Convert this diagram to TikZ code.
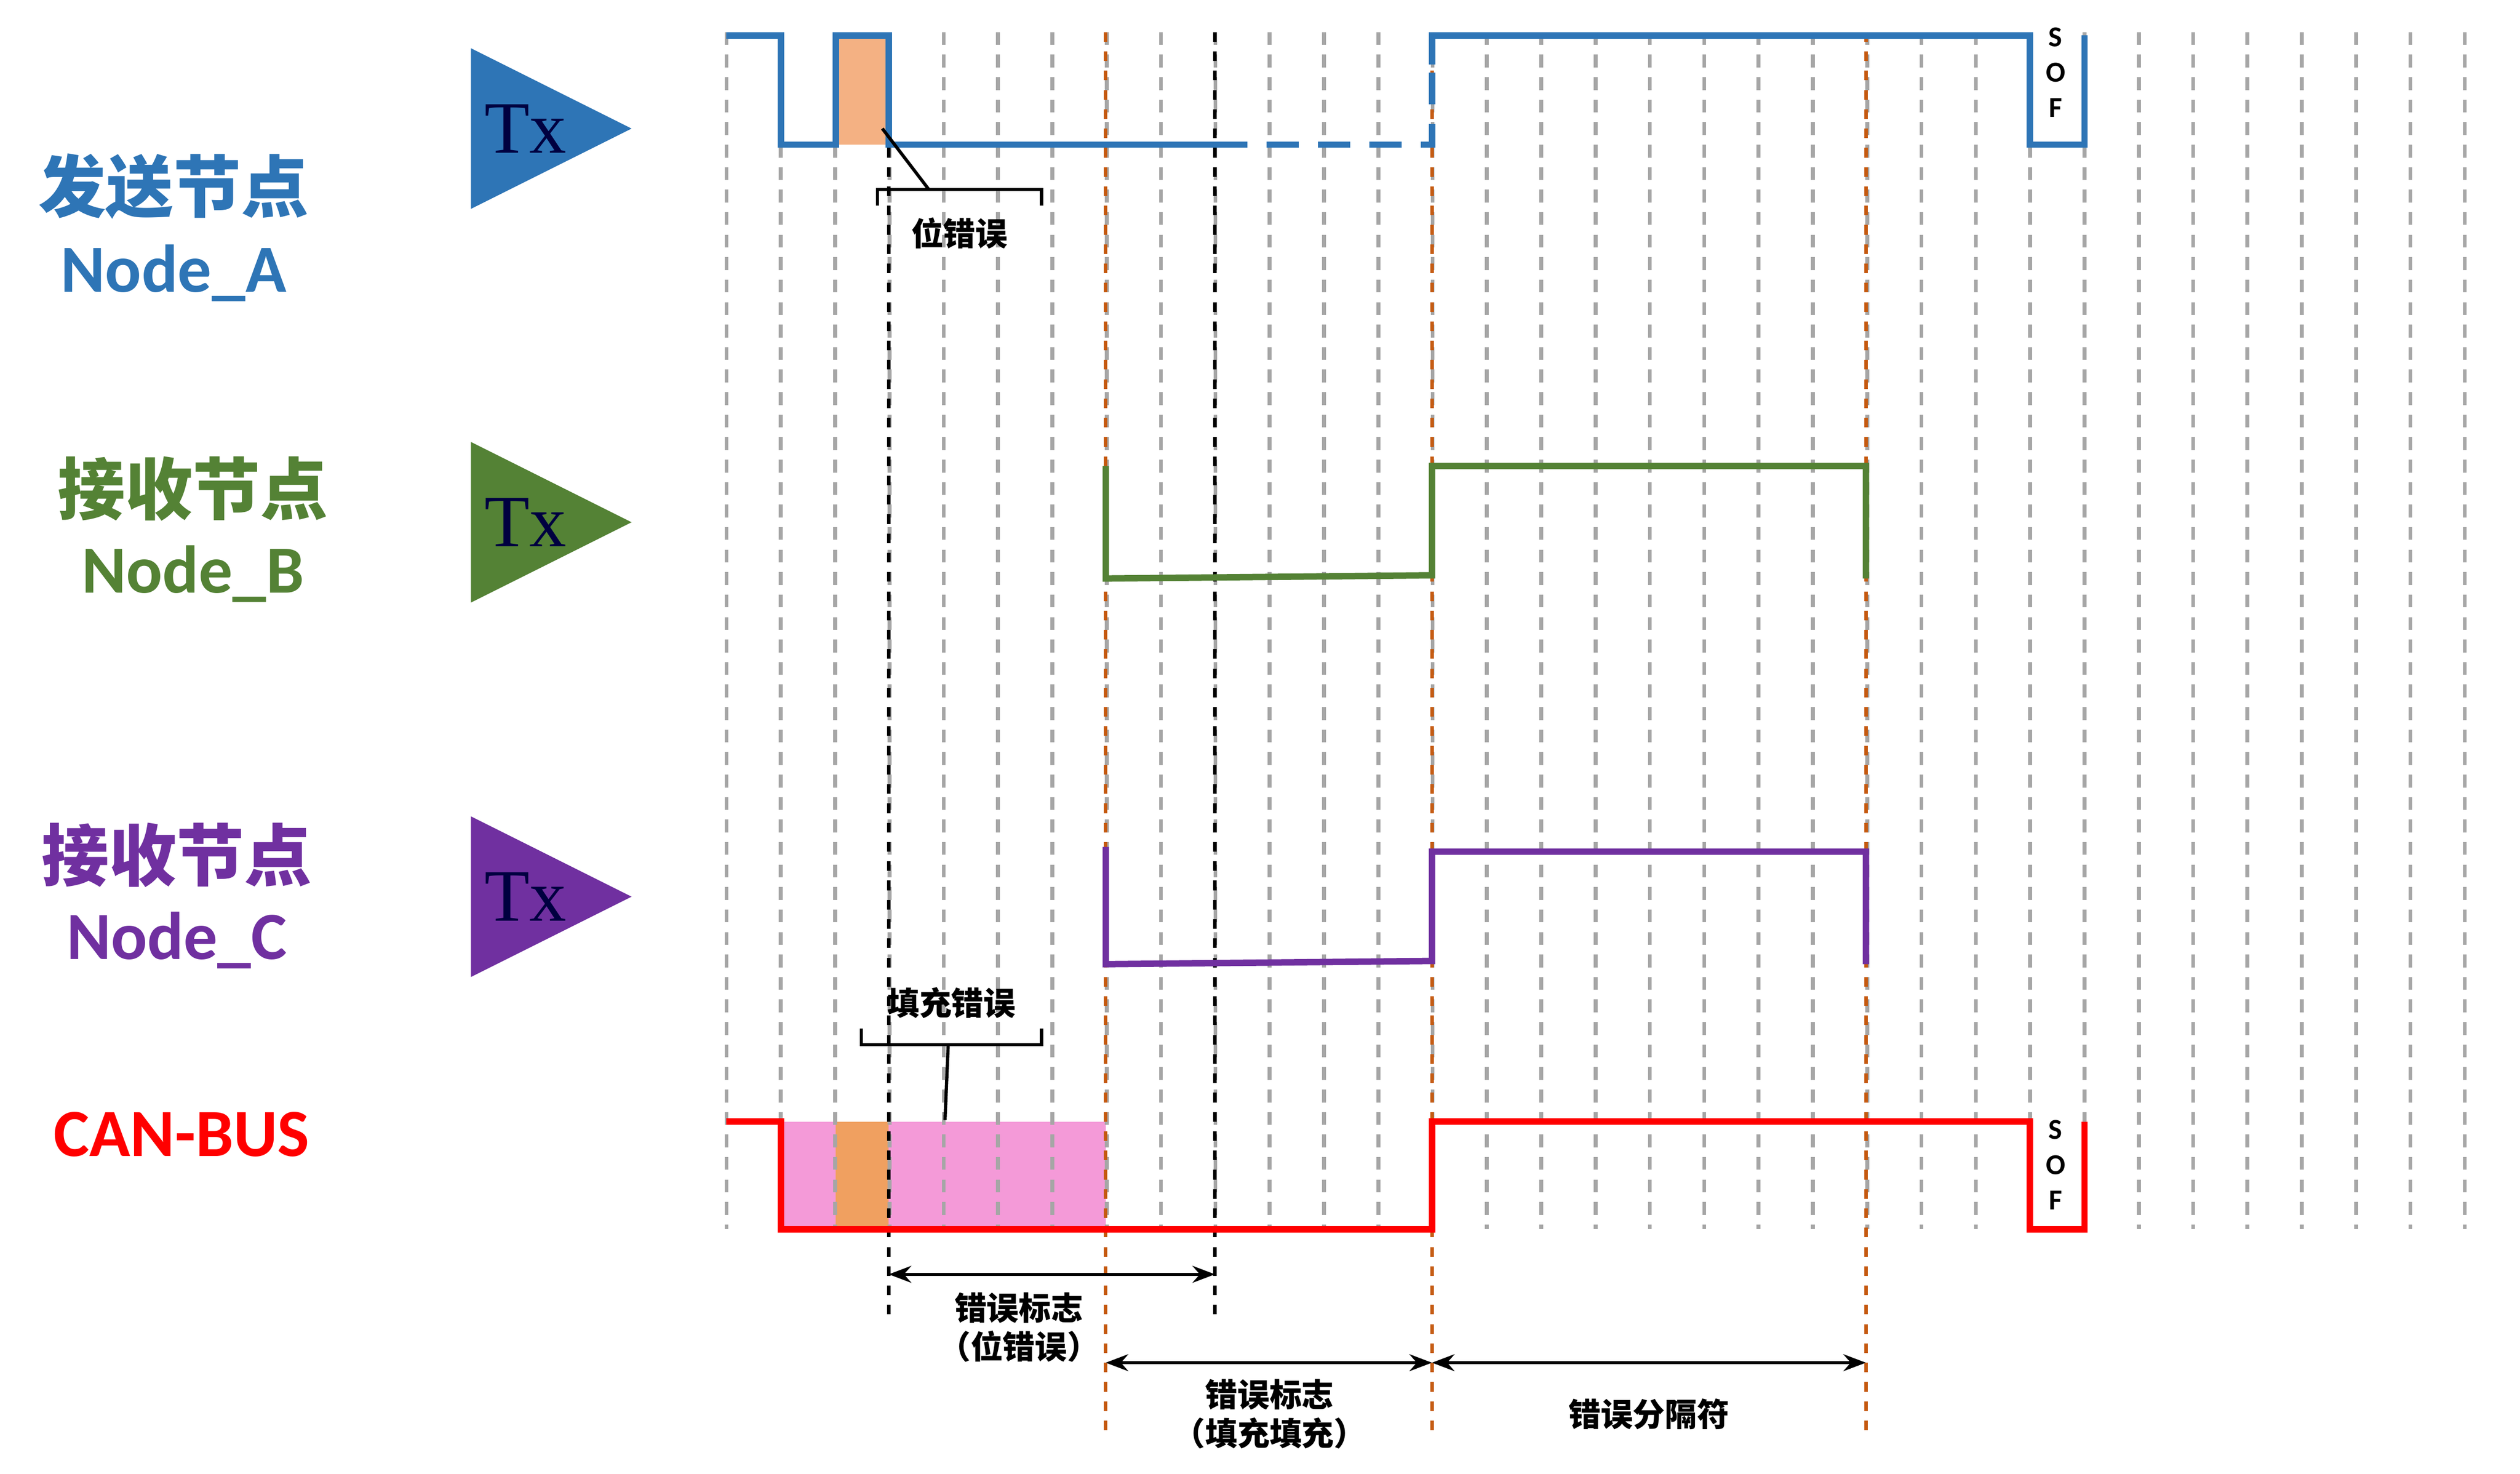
\documentclass[tikz,border=0pt]{standalone}
\usepackage{fontspec}
\setmainfont{Carlito}
\newfontfamily\cjk{Noto Sans CJK SC}
\newfontfamily\serif{Liberation Serif}
\usetikzlibrary{arrows.meta}
\definecolor{cblue}{HTML}{2E75B6}
\definecolor{cgreen}{HTML}{548235}
\definecolor{cpurple}{HTML}{7030A0}
\definecolor{corange}{HTML}{F4B183}
\definecolor{corange2}{HTML}{F0A060}
\definecolor{cpink}{HTML}{F49AD8}
\definecolor{cdorange}{HTML}{C55A11}
\tikzset{
 grid/.style={gray!70,dashed,line width=1.2pt,dash pattern=on 4pt off 3pt},
 sig/.style={line width=2pt,line join=miter},
 tx/.style={font=\serif\fontsize{23}{23}\selectfont},
 lbl/.style={font=\cjk\bfseries\fontsize{21}{21}\selectfont},
 nlbl/.style={font=\bfseries\fontsize{21}{21}\selectfont},
 small/.style={font=\cjk\bfseries\fontsize{10}{12}\selectfont,align=center},
 dim/.style={{Stealth[length=7pt]}-{Stealth[length=7pt]},line width=1pt}
}
\begin{document}
\begin{tikzpicture}[x=0.5pt,y=-0.5pt]
\useasboundingbox (0,0) rectangle (1568,917);
% fills
\fill[corange] (520,22) rectangle (553,90);
\fill[cpink] (486,698) rectangle (688,765);
\fill[corange2] (520,698) rectangle (553,765);
% grid
\foreach \i in {0,...,32}{
 \pgfmathsetmacro\xx{452+33.8*\i}
 \draw[grid] (\xx,20) -- (\xx,765);
}
% special verticals
\foreach \xx in {553,756}{\draw[black,dashed,line width=1.1pt] (\xx,20) -- (\xx,818);}
\foreach \xx in {688,891,1161}{\draw[cdorange,dashed,line width=1.1pt] (\xx,20) -- (\xx,890);}
% Node A
\draw[sig,cblue] (452,22) -- (486,22) -- (486,90) -- (520,90) -- (520,22) -- (553,22) -- (553,90) -- (756,90);
\draw[sig,cblue,dashed,dash pattern=on 10pt off 6pt] (756,90) -- (891,90) -- (891,40);
\draw[sig,cblue] (891,40) -- (891,22) -- (1263,22) -- (1263,90) -- (1297,90) -- (1297,22);
\node[font=\bfseries\fontsize{9}{10}\selectfont,align=center] (sofa) at (1279,45) {S\\[1pt]O\\[1pt]F};
% Node B
\draw[sig,cgreen] (688,290) -- (688,360) -- (891,358) -- (891,290) -- (1161,290) -- (1161,360);
% Node C
\draw[sig,cpurple] (688,527) -- (688,600) -- (891,598) -- (891,530) -- (1161,530) -- (1161,600);
% CAN
\draw[sig,red] (452,698) -- (486,698) -- (486,765) -- (891,765) -- (891,698) -- (1263,698) -- (1263,765) -- (1297,765) -- (1297,698);
\node[font=\bfseries\fontsize{9}{10}\selectfont,align=center] (sofc) at (1279,725) {S\\[1pt]O\\[1pt]F};
% triangles
\foreach \yy/\c/\n in {80/cblue/ta,325/cgreen/tb,558/cpurple/tc}{
 \fill[\c] (293,\yy-50) -- (393,\yy) -- (293,\yy+50) -- cycle;
 \node[tx,text=black!75!blue] (\n) at (327,\yy) {Tx};
}
% labels
\node[lbl,text=cblue] (la) at (108,116) {发送节点};
\node[nlbl,text=cblue] (na) at (108,170) {Node\_A};
\node[lbl,text=cgreen] (lb) at (120,304) {接收节点};
\node[nlbl,text=cgreen] (nb) at (120,357) {Node\_B};
\node[lbl,text=cpurple] (lc) at (110,532) {接收节点};
\node[nlbl,text=cpurple] (nc) at (110,585) {Node\_C};
\node[nlbl,text=red] (can) at (113,706) {CAN-BUS};
% bit error bracket
\draw[line width=1pt] (546,128) -- (546,118) -- (648,118) -- (648,128);
\coordinate (be) at (549,80);
\coordinate (bt) at (578,118);
\draw[line width=1pt] (be) -- (bt);
\node[small] (bel) at (597,145) {位错误};
% stuff error bracket
\draw[line width=1pt] (536,640) -- (536,650) -- (648,650) -- (648,640);
\coordinate (sb) at (590,650);
\coordinate (se) at (588,697);
\draw[line width=1pt] (sb) -- (se);
\node[small] (sel) at (592,624) {填充错误};
% dims
\coordinate (d1a) at (553,793); \coordinate (d1b) at (756,793);
\draw[dim] (d1a) -- (d1b);
\node[small] (t1) at (634,826) {错误标志\\（位错误）};
\coordinate (d2a) at (688,848); \coordinate (d2b) at (891,848);
\draw[dim] (d2a) -- (d2b);
\node[small] (t2) at (790,880) {错误标志\\（填充填充）};
\coordinate (d3a) at (891,848); \coordinate (d3b) at (1161,848);
\draw[dim] (d3a) -- (d3b);
\node[small] (t3) at (1026,880) {错误分隔符};
\end{tikzpicture}
\end{document}
